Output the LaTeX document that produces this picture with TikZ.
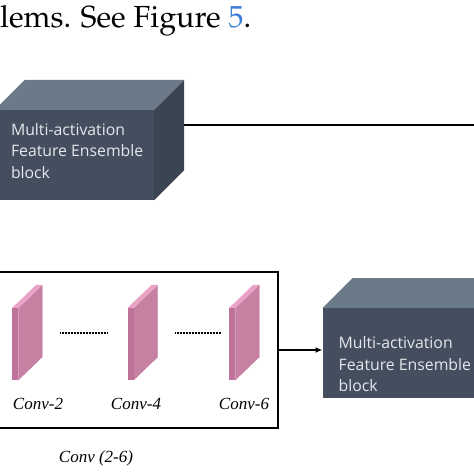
\documentclass[tikz,border=0pt]{standalone}
\usepackage[T1,TU]{fontenc}
\usepackage{fontspec}
\usetikzlibrary{arrows.meta,positioning}
\newfontfamily\blockfont{Open Sans}
\newfontfamily\capfont{Liberation Serif}
\definecolor{slatefront}{HTML}{454E5E}
\definecolor{slatetop}{HTML}{6B7A88}
\definecolor{slateside}{HTML}{3B4452}
\definecolor{slatetext}{HTML}{E4E8EC}
\definecolor{pinkfront}{HTML}{C0739A}
\definecolor{pinkside}{HTML}{C680A2}
\definecolor{pinktop}{HTML}{E8A3C6}
\definecolor{figblue}{HTML}{3B7DD8}
\begin{document}
\begin{tikzpicture}[x=1pt,y=-1pt,
	febfront/.style={fill=slatefront, minimum width=159pt, minimum height=90pt, inner sep=0pt},
	febtop/.style={fill=slatetop},
	febside/.style={fill=slateside},
	febtext/.style={font=\blockfont\fontsize{15.8}{21.5}\selectfont, text=slatetext, align=left, inner sep=0pt, anchor=north west},
	platefront/.style={fill=pinkfront, minimum width=6pt, minimum height=72pt, inner sep=0pt},
	platetop/.style={fill=pinktop, draw=pinktop, line width=0.3pt},
	plateside/.style={fill=pinkside, draw=pinkside, line width=0.3pt},
	convlabel/.style={font=\capfont\itshape\fontsize{17}{20}\selectfont, anchor=base, inner sep=0pt},
	dotline/.style={line width=1.3pt, dash pattern=on 0.8pt off 0.7pt}]
	\useasboundingbox (0,0) rectangle (474,474);
	
	\node[anchor=base west, inner sep=0pt, font=\fontencoding{T1}\fontfamily{ppl}\fontsize{30.5}{36}\selectfont] (head) at (0,27.3) {lems. See Figure \textcolor{figblue}{5}.};
	
	% upper block
	\node[febfront] (feb1) at (74.5,155) {};
	\fill[febtop] (feb1.north west) -- ++(30,-30) -- ([shift={(30,-30)}]feb1.north east) -- (feb1.north east) -- cycle;
	\fill[febside] (feb1.north east) -- ++(30,-30) -- ([shift={(30,-30)}]feb1.south east) -- (feb1.south east) -- cycle;
	\node[febtext] (feb1txt) at ([shift={(16,13.2)}]feb1.north west) {Multi-activation\\Feature Ensemble\\block};
	\coordinate (feb1out) at (480,125);
	\draw[line width=1.8pt] ([shift={(30,-30)}]feb1.east) -- (feb1out);
	
	% conv layers
	\node[draw, line width=2.2pt, minimum width=283pt, minimum height=156pt, inner sep=0pt] (convbox) at (136.5,350) {};
	\foreach \x/\n/\lx in {15.3/2/38, 130.7/4/136, 232.3/6/244}{
		\filldraw[plateside] ([xshift=3pt]\x,344) ++(0,-36) -- ++(24,-23) -- ++(0,72) -- ++(-24,23) -- cycle;
		\filldraw[platetop] ([xshift=-3pt]\x,344) ++(0,-36) -- ++(24,-23) -- ++(6,0) -- ++(-24,23) -- cycle;
		\node[platefront] (p\n) at (\x,344) {};
		\node[convlabel] (c\n) at (\lx,409) {Conv-\n};
	}
	\coordinate (d1a) at (60,333);
	\coordinate (d1b) at (107,333);
	\coordinate (d2a) at (175,333);
	\coordinate (d2b) at (221,333);
	\draw[dotline] (d1a) -- (d1b);
	\draw[dotline] (d2a) -- (d2b);
	\node[convlabel] (convall) at (96,462) {Conv (2-6)};
	
	% lower block
	\node[febfront] (feb2) at (402.2,353.3) {};
	\fill[febtop] (feb2.north west) -- ++(30,-30) -- ([shift={(30,-30)}]feb2.north east) -- (feb2.north east) -- cycle;
	\fill[febside] (feb2.north east) -- ++(30,-30) -- ([shift={(30,-30)}]feb2.south east) -- (feb2.south east) -- cycle;
	\node[febtext] (feb2txt) at ([shift={(16,28.2)}]feb2.north west) {Multi-activation\\Feature Ensemble\\block};
	\draw[line width=1.6pt, -{Latex[length=7pt,width=6pt]}] (convbox.east) -- (convbox.east -| feb2.west);
\end{tikzpicture}
\end{document}
